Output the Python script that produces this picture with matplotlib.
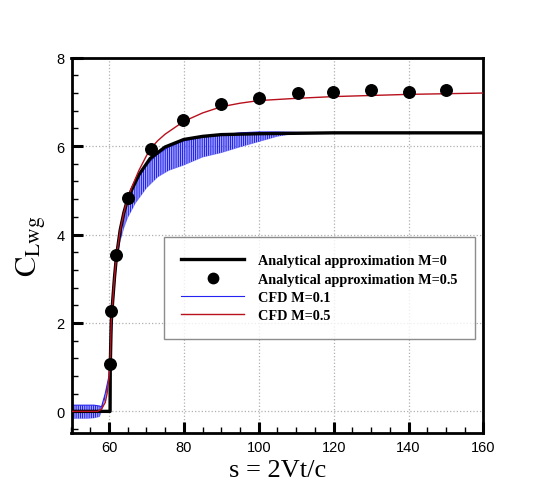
import matplotlib
matplotlib.use("Agg")
import matplotlib.pyplot as plt
from matplotlib.ticker import MultipleLocator

# ---------------- data ----------------
# Analytical approximation M=0 (black line)
x_an0 = [50, 60.3, 60.35, 60.6, 61, 61.5, 62, 63, 64, 65, 66, 68, 71, 75, 80, 85, 90, 100, 110, 120, 140, 160]
y_an0 = [0, 0, 1.0, 2.0, 2.5, 3.05, 3.5, 4.1, 4.5, 4.8, 5.0, 5.35, 5.72, 5.98, 6.15, 6.22, 6.26, 6.28, 6.29, 6.3, 6.3, 6.3]

# Analytical approximation M=0.5 (dots)
x_an5 = [60.3, 60.6, 62.0, 65.0, 71.1, 79.8, 90.0, 100.0, 110.5, 119.8, 130.0, 140.0, 150.0]
y_an5 = [1.08, 2.28, 3.54, 4.83, 5.93, 6.58, 6.95, 7.08, 7.19, 7.22, 7.26, 7.23, 7.28]

# CFD M=0.1 (blue, strongly oscillating: lower / upper envelope of the oscillation)
x_cfd1 = [50, 52, 54, 56, 57.5, 58, 59, 59.5, 60, 60.5, 61, 62, 63, 64, 65, 67, 70, 73, 76, 80, 85, 90, 95, 100, 105, 110, 120, 140, 160]
lo_cfd1 = [-0.16, -0.16, -0.16, -0.15, -0.12, 0.0, 0.3, 0.5, 0.7, 1.3, 2.3, 3.35, 3.85, 4.15, 4.38, 4.7, 5.05, 5.3, 5.45, 5.57, 5.75, 5.85, 5.98, 6.1, 6.22, 6.29, 6.3, 6.3, 6.3]
hi_cfd1 = [0.14, 0.14, 0.14, 0.14, 0.12, 0.1, 0.4, 0.6, 0.8, 1.45, 2.45, 3.5, 4.05, 4.45, 4.85, 5.2, 5.58, 5.82, 5.98, 6.12, 6.2, 6.25, 6.3, 6.32, 6.32, 6.31, 6.3, 6.3, 6.3]

# CFD M=0.5 (red line)
x_cfd5 = [50, 57, 58, 59, 59.5, 60, 60.3, 60.6, 61, 61.5, 62, 63, 64, 65, 66, 68, 70, 71, 73, 75, 80, 85, 90, 95, 100, 110, 120, 140, 160]
y_cfd5 = [0, 0, 0.05, 0.2, 0.4, 0.75, 1.1, 2.0, 2.5, 3.05, 3.5, 4.1, 4.5, 4.82, 5.05, 5.45, 5.78, 5.93, 6.12, 6.27, 6.56, 6.75, 6.89, 6.97, 7.03, 7.08, 7.12, 7.17, 7.2]

labels = ["Analytical approximation M=0", "Analytical approximation M=0.5", "CFD M=0.1", "CFD M=0.5"]
x_ticks = [60, 80, 100, 120, 140, 160]
y_ticks = [0, 2, 4, 6, 8]

# ---------------- figure ----------------
plt.rcParams['mathtext.fontset'] = 'stix'
plt.rcParams['hatch.linewidth'] = 0.9

fig = plt.figure(figsize=(5.5, 4.89), dpi=100)
ax = fig.add_axes([0.130, 0.1115, 0.749, 0.7685])

ax.set_xlim(50, 160)
ax.set_ylim(-0.5, 8)

ax.grid(True, which='major', linestyle=':', color='#b0b0b0', linewidth=0.9)
ax.set_axisbelow(True)

blue = '#2424f0'
ax.fill_between(x_cfd1, lo_cfd1, hi_cfd1, facecolor='none', edgecolor=blue,
                hatch='|' * 9, linewidth=0, zorder=2)
ax.plot(x_cfd1, lo_cfd1, color=blue, linewidth=0.5, alpha=0.4, zorder=2)
h_cfd1, = ax.plot(x_cfd1, hi_cfd1, color=blue, linewidth=0.8, zorder=2)

h_an0, = ax.plot(x_an0, y_an0, color='black', linewidth=2.4, zorder=3)
h_cfd5, = ax.plot(x_cfd5, y_cfd5, color='#b8101c', linewidth=1.0, zorder=4)
h_an5, = ax.plot(x_an5, y_an5, linestyle='none', marker='o', markersize=8.3,
                 color='black', zorder=5)

ax.set_xticks(x_ticks)
ax.set_yticks(y_ticks)
ax.xaxis.set_minor_locator(MultipleLocator(5))
ax.yaxis.set_minor_locator(MultipleLocator(0.4))
ax.tick_params(which='major', direction='in', length=8, width=2.2,
               labelsize=10.5, pad=5)
ax.tick_params(which='minor', direction='in', length=4.5, width=1.0)
for lab in ax.get_xticklabels() + ax.get_yticklabels():
    lab.set_fontfamily('Liberation Sans')
for s in ax.spines.values():
    s.set_linewidth(2.0)

ax.set_xlabel('s = 2Vt/c', fontfamily='Liberation Serif', fontsize=19, labelpad=3)
ax.set_ylabel(r'$\mathrm{C_{Lwg}}$', fontsize=22, labelpad=6)

leg = ax.legend([h_an0, h_an5, h_cfd1, h_cfd5], labels,
                loc='upper left', bbox_to_anchor=(0.2245, 0.522),
                borderaxespad=0, frameon=True, fancybox=False,
                prop={'family': 'Liberation Serif', 'weight': 'bold', 'size': 10.3},
                handlelength=4.4, handletextpad=1.0, labelspacing=0.36,
                borderpad=1.2, markerscale=0.9)
leg.get_frame().set_edgecolor('#707070')
leg.get_frame().set_linewidth(1.0)

fig.savefig('out.png', dpi=100)
